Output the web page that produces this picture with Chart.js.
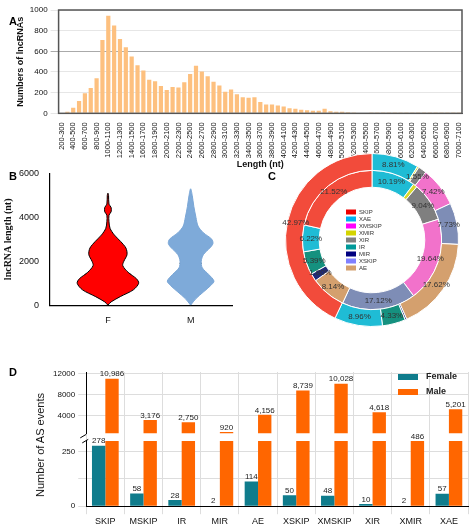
<!DOCTYPE html>
<html><head><meta charset="utf-8">
<script src="https://cdn.jsdelivr.net/npm/chart.js@4.4.0/dist/chart.umd.min.js"></script>
<style>
body{margin:0;background:#fff;width:474px;height:531px;position:relative;overflow:hidden;font-family:"Liberation Sans",Arial,sans-serif}
.p{position:absolute}
.lt{position:absolute;font-weight:bold;font-size:11px;color:#000}
.yt{position:absolute;left:40px;top:445px;transform:translate(-50%,-50%) rotate(-90deg);font-size:11px;color:#111;white-space:nowrap}
</style></head><body>
<div class="p" style="left:0;top:0;width:474px;height:170px"><canvas id="ca"></canvas></div>
<div class="p" style="left:0;top:165px;width:240px;height:175px"><canvas id="cb"></canvas></div>
<div class="p" style="left:277px;top:150px;width:190px;height:180px"><canvas id="cc"></canvas></div>
<div class="p" style="left:0;top:360px;width:474px;height:171px"><canvas id="cd"></canvas></div>
<div class="lt" style="left:9px;top:15px">A</div>
<div class="lt" style="left:9px;top:170px">B</div>
<div class="lt" style="left:268px;top:170px">C</div>
<div class="lt" style="left:9px;top:366px">D</div>
<div class="yt">Number of AS events</div>
<script>
// ---------- Panel A data ----------
const lenBinStarts = [];
for (let s = 200; s <= 7000; s += 100) lenBinStarts.push(s);
const lenLabels = lenBinStarts.map(s => s + '-' + (s + 100));
const lenCounts = [5,15,55,120,195,245,340,710,945,850,720,640,550,465,415,325,310,265,225,255,250,300,380,460,405,360,305,270,210,230,185,155,150,155,110,85,85,75,65,50,45,35,30,25,25,45,20,15,15,10,8,5,5,3,3,2,2,2,1,1,1,1,1,1,1,1,1,1,1];

// ---------- Panel B data (violin profiles: [length, relative density]) ----------
const violinF = [[0,0],[150,3],[400,12],[700,24],[1000,29],[1200,27],[1500,19],[1800,14],[2000,15],[2300,18],[2600,17],[2900,12],[3200,6],[3500,2],[3800,1],[4100,1],[4250,3],[4450,3],[4600,1],[5000,0.6],[5100,0]];
const violinM = [[0,0],[300,5],[600,12],[900,19],[1100,22],[1400,17],[1700,11],[2000,10],[2300,12],[2600,18],[2800,21],[3000,20],[3300,12],[3600,7],[4000,5],[4500,3],[5000,1.5],[5300,0]];
const statsF = {median:1400, q1:900, q3:2200};
const statsM = {median:1900, q1:1050, q3:2900};

// ---------- Panel C / D data ----------
const asCats = ['SKIP','MSKIP','IR','MIR','AE','XSKIP','XMSKIP','XIR','XMIR','XAE'];
const femaleAS = [278,58,28,2,114,50,48,10,2,57];
const maleAS = [10986,3176,2750,920,4156,8739,10028,4618,486,5201];
const ringOrder = ['XAE','XMIR','XIR','XMSKIP','XSKIP','AE','MIR','IR','MSKIP','SKIP'];
const typeColors = {SKIP:'#F24B3B',XAE:'#1FBCD5',MSKIP:'#1FBCD5',XMSKIP:'#F272CB',XMIR:'#D9D92A',XIR:'#7F7F7F',IR:'#15917F',MIR:'#1F2A7A',XSKIP:'#7E8DB6',AE:'#D4A06E'};
const legendTypes = ['SKIP','XAE','XMSKIP','XMIR','XIR','IR','MIR','XSKIP','AE'];
const legendColors = {SKIP:'#F00000',XAE:'#00B0F0',XMSKIP:'#FF00FF',XMIR:'#D4D400',XIR:'#808080',IR:'#009999',MIR:'#000080',XSKIP:'#8080FF',AE:'#D4A06E'};

const FONT = '"Liberation Sans", Arial, sans-serif';
Chart.defaults.font.family = FONT;
Chart.defaults.color = '#111';
Chart.defaults.animation = false;
const plain = v => String(v);

// ---------- Chart A ----------
const frame = {id:'frame', afterDraw(c){const a=c.chartArea,x=c.ctx;x.save();x.strokeStyle='#555';x.lineWidth=1.5;x.strokeRect(a.left,a.top,a.right-a.left,a.bottom-a.top);x.restore();}};
new Chart(document.getElementById('ca'), {
  type:'bar',
  data:{labels:lenLabels, datasets:[{data:lenCounts, backgroundColor:'#FDC07F', barPercentage:0.72, categoryPercentage:1}]},
  options:{responsive:true, maintainAspectRatio:false,
    layout:{padding:{left:14,right:12,top:10,bottom:0}},
    plugins:{legend:{display:false}, tooltip:{enabled:false}},
    scales:{
      x:{grid:{display:false}, border:{color:'#555'},
         ticks:{autoSkip:false, maxRotation:90, minRotation:90, font:{size:7.5}, padding:1,
           callback:(v,i)=> i%2===0 ? lenLabels[i] : ''},
         title:{display:true, text:'Length (nt)', font:{size:9,weight:'bold'}, padding:0}},
      y:{min:0,max:1000, ticks:{stepSize:200, font:{size:8}, callback:plain}, grid:{color:(c)=>c.tick.value===600?'#aaa':'#e6e6e6'}, border:{color:'#555'},
         title:{display:true, text:'Numbers of lncRNAs', font:{size:9,weight:'bold'}, padding:1}}
    }},
  plugins:[frame]
});

// ---------- Chart B (violins) ----------
const WSCALE = 1/78;
function widthAt(prof, y){for(let i=1;i<prof.length;i++){if(y<=prof[i][0]){const a=prof[i-1],b=prof[i];return a[1]+(b[1]-a[1])*(y-a[0])/(b[0]-a[0]);}}return 0;}
function outline(prof, c){const r=prof.map(p=>({x:c+p[1]*WSCALE,y:p[0]}));const l=prof.slice().reverse().map(p=>({x:c-p[1]*WSCALE,y:p[0]}));return r.concat(l.slice(1));}
function hline(prof,c,y){const w=widthAt(prof,y)*WSCALE;return [{x:c-w,y},{x:c+w,y}];}
const violinFill = {id:'vfill', beforeDatasetDraw(chart,args){const ds=chart.data.datasets[args.index];if(!ds.areaColor)return;const meta=args.meta,ctx=chart.ctx;ctx.save();ctx.beginPath();meta.dataset.path(ctx);ctx.closePath();ctx.fillStyle=ds.areaColor;ctx.fill();ctx.restore();}};
const lineDs=(pts,color,dash,w)=>({data:pts,showLine:true,borderColor:color,borderWidth:w,borderDash:dash,pointRadius:0,tension:0});
new Chart(document.getElementById('cb'), {
  type:'scatter',
  data:{datasets:[
    {data:outline(violinF,1),showLine:true,tension:0.3,borderColor:'#000',borderWidth:1,pointRadius:0,areaColor:'#FF0000'},
    {data:outline(violinM,2),showLine:true,tension:0.3,borderColor:'#7AA6D6',borderWidth:1,pointRadius:0,areaColor:'#7EAAD9'},
    lineDs(hline(violinF,1,statsF.median),'#000',[],1.2),
    lineDs(hline(violinF,1,statsF.q1),'#fff',[3,2],0.8),
    lineDs(hline(violinF,1,statsF.q3),'#fff',[3,2],0.8),
    lineDs(hline(violinM,2,statsM.median),'#000',[],1.2),
    lineDs(hline(violinM,2,statsM.q1),'#fff',[3,2],0.8),
    lineDs(hline(violinM,2,statsM.q3),'#fff',[3,2],0.8)
  ]},
  options:{responsive:true,maintainAspectRatio:false,
    layout:{padding:{left:0,right:8,top:6,bottom:12}},
    plugins:{legend:{display:false},tooltip:{enabled:false}},
    scales:{
      x:{type:'linear',min:0.3,max:2.5,grid:{display:false},border:{color:'#000',width:1.2},
        afterBuildTicks:(s)=>{s.ticks=[{value:1},{value:2}];},
        ticks:{callback:(v)=>v===1?'F':(v===2?'M':''),font:{size:9},padding:2}},
      y:{min:0,max:6000,grid:{display:false},border:{color:'#000',width:1.2},ticks:{stepSize:2000,font:{size:9},callback:plain},
        title:{display:true,text:'lncRNA length (nt)',font:{family:'"Liberation Serif", serif',size:10,weight:'bold'},padding:2}}
    }},
  plugins:[violinFill]
});

// ---------- Chart C (double ring) ----------
const idx = ringOrder.map(t=>asCats.indexOf(t));
const femaleRing = idx.map(i=>femaleAS[i]);
const maleRing = idx.map(i=>maleAS[i]);
const ringColors = ringOrder.map(t=>typeColors[t]);
const pctLabels = {id:'pct', afterDatasetsDraw(chart){const ctx=chart.ctx;ctx.save();ctx.font='8px '+FONT;ctx.fillStyle='#333';ctx.textAlign='center';ctx.textBaseline='middle';
  chart.data.datasets.forEach((ds,di)=>{const tot=ds.data.reduce((a,b)=>a+b,0);chart.getDatasetMeta(di).data.forEach((el,i)=>{const p=ds.data[i]/tot*100;if(p<1.5)return;const c=el.getCenterPoint();ctx.fillText(p.toFixed(2)+'%',c.x,c.y);});});ctx.restore();}};
const centerLegend = {id:'clg', afterDraw(chart){const m=chart.getDatasetMeta(0).data[0];const cx=m.x,cy=m.y,ctx=chart.ctx;ctx.save();ctx.font='6px '+FONT;ctx.textBaseline='middle';
  legendTypes.forEach((t,i)=>{const y=cy-28+i*7;ctx.fillStyle=legendColors[t];ctx.fillRect(cx-26,y-2.5,10,5);ctx.fillStyle='#333';ctx.fillText(t,cx-13,y);});ctx.restore();}};
new Chart(document.getElementById('cc'), {
  type:'doughnut',
  data:{labels:ringOrder, datasets:[
    {data:femaleRing,backgroundColor:ringColors,borderColor:'#fff',borderWidth:1},
    {data:maleRing,backgroundColor:ringColors,borderColor:'#fff',borderWidth:1}
  ]},
  options:{responsive:true,maintainAspectRatio:false,cutout:'61%',layout:{padding:3},
    plugins:{legend:{display:false},tooltip:{enabled:false}}},
  plugins:[pctLabels,centerLegend]
});

// ---------- Chart D (broken axis bars) ----------
const LOW_MAX=300, UP_MIN=650;
const fmt=v=>v.toLocaleString('en-US');
const dLabels = {id:'dlab', afterDatasetsDraw(chart){const ctx=chart.ctx;ctx.save();ctx.font='8px '+FONT;ctx.fillStyle='#222';ctx.textAlign='center';ctx.textBaseline='bottom';
  const mf=chart.getDatasetMeta(0),ml=chart.getDatasetMeta(1),mu=chart.getDatasetMeta(2);
  asCats.forEach((c,i)=>{ctx.fillText(fmt(femaleAS[i]),mf.data[i].x,mf.data[i].y-0.5);const v=maleAS[i];const el=v>=UP_MIN?mu.data[i]:ml.data[i];ctx.fillText(fmt(v),el.x,el.y-0.5);});
  const a=chart.chartArea;[['Female','#0F7C8C'],['Male','#FF6600']].forEach((it,k)=>{const y=a.top+5+k*15;ctx.fillStyle=it[1];ctx.fillRect(a.right-70,y-3,20,6);ctx.fillStyle='#222';ctx.font='bold 9px '+FONT;ctx.textAlign='left';ctx.textBaseline='middle';ctx.fillText(it[0],a.right-42,y);});
  const ys=chart.scales.yg;ctx.strokeStyle='#000';ctx.lineWidth=1;ctx.beginPath();ctx.moveTo(a.left-4,ys.bottom+2);ctx.lineTo(a.left+2,ys.top+6);ctx.moveTo(a.left-6,ys.bottom-3);ctx.lineTo(a.left,ys.top+1);ctx.stroke();
  ctx.restore();}};
new Chart(document.getElementById('cd'), {
  type:'bar',
  data:{labels:asCats, datasets:[
    {label:'Female',data:femaleAS,backgroundColor:'#0F7C8C',stack:'f',yAxisID:'y'},
    {label:'Male',data:maleAS.map(v=>Math.min(v,LOW_MAX)),backgroundColor:'#FF6600',stack:'m',yAxisID:'y'},
    {label:'Male',data:maleAS.map(v=>v>=UP_MIN?v:null),backgroundColor:'#FF6600',stack:'m',yAxisID:'yu'}
  ]},
  options:{responsive:true,maintainAspectRatio:false,
    datasets:{bar:{categoryPercentage:0.7,barPercentage:1}},
    layout:{padding:{left:50,right:6,top:12,bottom:2}},
    plugins:{legend:{display:false},tooltip:{enabled:false}},
    scales:{
      x:{stacked:true,grid:{color:'#ddd',offset:true},border:{color:'#000'},ticks:{font:{size:9},padding:2,maxRotation:0,minRotation:0,autoSkip:false}},
      y:{stack:'v',stackWeight:199,min:0,max:LOW_MAX,position:'left',
        afterBuildTicks:(s)=>{s.ticks=[{value:0},{value:125},{value:250}];},
        ticks:{font:{size:8},callback:(v)=>v===125?'':String(v)},grid:{color:'#ddd'},border:{color:'#000'}},
      yg:{stack:'v',stackWeight:23,min:0,max:1,position:'left',ticks:{display:false},grid:{display:false},border:{display:false}},
      yu:{stack:'v',stackWeight:187,min:UP_MIN,max:12250,position:'left',
        afterBuildTicks:(s)=>{s.ticks=[{value:4000},{value:8000},{value:12000}];},
        ticks:{font:{size:8},callback:plain},grid:{color:'#ddd'},border:{color:'#000'}}
    }},
  plugins:[dLabels]
});
</script>
</body></html>
